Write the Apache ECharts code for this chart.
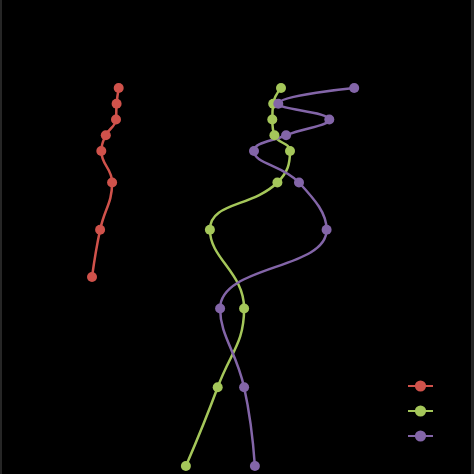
<!DOCTYPE html>
<html>
<head>
<meta charset="utf-8">
<script src="https://cdn.jsdelivr.net/npm/echarts@6/dist/echarts.min.js"></script>
<style>
html,body{margin:0;padding:0;background:#262626;width:474px;height:474px;overflow:hidden;}
#chart{position:absolute;left:2px;top:0;width:469px;height:474px;background:#000;}
</style>
</head>
<body>
<div id="chart"></div>
<script>
const redDepths = [0, 10, 20, 30, 40, 60, 90, 120];
const profileDepths = [0, 10, 20, 30, 40, 60, 90, 140, 190, 240];
const seriesNames = ['A', 'B', 'C'];
const redValues = [12.9, 12.2, 12.0, 8.6, 7.1, 10.7, 6.7, 4.0];
const greenValues = [67.0, 64.4, 64.1, 64.8, 70.0, 65.8, 43.3, 54.7, 45.9, 35.3];
const purpleValues = [91.4, 66.1, 83.1, 68.7, 58.0, 73.0, 82.2, 46.7, 54.7, 58.3];
const colors = ['#d0524b', '#a5c75a', '#8365a8'];

function pairs(vals, depths) { return vals.map((v, i) => [v, depths[i]]); }

const chart = echarts.init(document.getElementById('chart'));
const allData = [pairs(redValues, redDepths), pairs(greenValues, profileDepths), pairs(purpleValues, profileDepths)];
chart.setOption({
  backgroundColor: '#000',
  animation: false,
  color: colors,
  grid: { left: 78, width: 300, top: 88, bottom: 8 },
  xAxis: { type: 'value', min: 0, max: 100, show: false },
  yAxis: { type: 'value', min: 0, max: 240, inverse: true, show: false },
  legend: {
    orient: 'vertical', left: 400, top: 375, itemWidth: 25, itemHeight: 14, itemGap: 13,
    textStyle: { color: '#000' },
    data: seriesNames
  },
  series: seriesNames.map((n, k) => ({
    name: n, type: 'line', smooth: 0.45, clip: false,
    symbol: 'circle', symbolSize: 10,
    lineStyle: { width: 2.5 },
    data: allData[k]
  }))
});
</script>
</body>
</html>
